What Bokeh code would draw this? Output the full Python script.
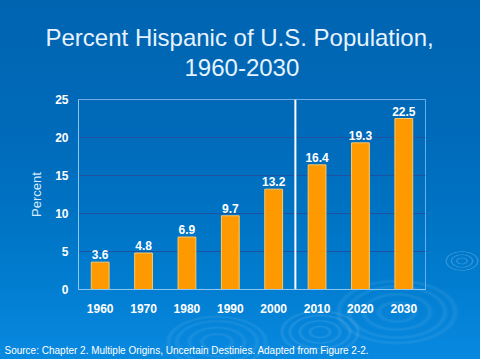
from bokeh.plotting import figure
from bokeh.models import (FactorRange, Range1d, ColumnDataSource, LabelSet, Span,
                          FixedTicker, Title)
from bokeh.core.properties import value
from bokeh.embed import file_html
from bokeh.resources import INLINE

# ---- data ----
years = ["1960", "1970", "1980", "1990", "2000", "2010", "2020", "2030"]
percent = [3.6, 4.8, 6.9, 9.7, 13.2, 16.4, 19.3, 22.5]
value_labels = ["3.6", "4.8", "6.9", "9.7", "13.2", "16.4", "19.3", "22.5"]
y_ticks = [0, 5, 10, 15, 20, 25]
last_observed = "2000"

title_line1 = "Percent Hispanic of U.S. Population,"
title_line2 = "1960-2030"
y_label = "Percent"
source_text = "Source: Chapter 2. Multiple Origins, Uncertain Destinies. Adapted from Figure 2-2."

FONT = "Liberation Sans"
W, H = 480, 359
ML, MR, MT, MB = 78, 55, 99, 70

p = figure(width=W, height=H, x_range=FactorRange(*years), y_range=Range1d(0, 25),
           output_backend="svg", toolbar_location=None,
           min_border_left=ML, min_border_right=MR, min_border_top=MT, min_border_bottom=MB)

# slide-like background (gradient + faint water ripples) via CSS on the plot element
def ripple(cx, cy, rx, ry, rings, a):
    stops = []
    for f in rings:
        stops.append(f"rgba(255,255,255,0) {max(f - 0.07, 0) * 100:.1f}%")
        stops.append(f"rgba(255,255,255,{a}) {f * 100:.1f}%")
        stops.append(f"rgba(255,255,255,0) {(f + 0.07) * 100:.1f}%")
    return f"radial-gradient(ellipse {rx}px {ry}px at {cx}px {cy}px, " + ", ".join(stops) + ")"

layers = [
    ripple(462, 261, 17, 10, [0.3, 0.62, 0.93], 0.22),
    ripple(320, 332, 40, 22, [0.25, 0.5, 0.75, 0.95], 0.10),
    ripple(397, 312, 60, 32, [0.3, 0.55, 0.8, 0.97], 0.08),
    ripple(217, 342, 50, 26, [0.3, 0.55, 0.8, 0.97], 0.08),
    "linear-gradient(to bottom, #0064b1 0%, #006ab9 35%, #0071c1 55%, #007bcd 75%, #0889e0 100%)",
]
p.styles = {"background": ", ".join(layers)}
p.border_fill_alpha = 0
p.background_fill_alpha = 0
p.outline_line_color = "#6aaee8"
p.outline_line_width = 1

src = ColumnDataSource(dict(x=years, top=percent, lab=value_labels))
p.vbar(x="x", top="top", width=0.41, source=src, fill_color="#ff9900",
       line_color="#ffc766", line_width=1)

p.add_layout(LabelSet(x="x", y="top", text="lab", source=src, text_align="center",
                      text_baseline="alphabetic", y_offset=3, text_color="white",
                      text_font_size="12px", text_font_style="bold", text_font=value(FONT)))

# divider between observed and projected values
p.add_layout(Span(location=years.index(last_observed) + 1, dimension="height",
                  line_color="white", line_width=2))

p.xgrid.grid_line_color = None
p.ygrid.grid_line_color = "#1d52a3"
p.ygrid.grid_line_width = 1
p.ygrid.ticker = FixedTicker(ticks=y_ticks)

p.yaxis.ticker = FixedTicker(ticks=y_ticks)
for ax in (p.xaxis[0], p.yaxis[0]):
    ax.major_tick_line_color = None
    ax.minor_tick_line_color = None
    ax.axis_line_color = "#8cc6f2"
    ax.major_label_text_color = "white"
    ax.major_label_text_font = FONT
    ax.major_label_text_font_style = "bold"
    ax.major_label_text_font_size = "12px"
p.yaxis.major_label_standoff = 4
p.xaxis.major_label_standoff = 8

p.yaxis.axis_label = y_label
p.yaxis.axis_label_text_font = FONT
p.yaxis.axis_label_text_font_style = "normal"
p.yaxis.axis_label_text_font_size = "13px"
p.yaxis.axis_label_text_color = "#d6ebff"
p.yaxis.axis_label_standoff = 8

# titles (added nearest-first)
p.add_layout(Title(text=title_line2, align="left", offset=106, standoff=47,
                   text_font=FONT, text_font_size="24px", text_font_style="normal",
                   text_color="#e6f3ff"), "above")
p.add_layout(Title(text=title_line1, align="left", offset=-33, standoff=-34,
                   text_font=FONT, text_font_size="24px", text_font_style="normal",
                   text_color="#e6f3ff"), "above")

# spacer + source line
p.add_layout(Title(text=" ", align="left", standoff=14, text_font=FONT,
                   text_font_size="10px"), "below")
p.add_layout(Title(text=source_text, align="left", offset=-74, standoff=0,
                   text_font=FONT, text_font_size="10px", text_font_style="normal",
                   text_color="white"), "below")

open("out.html", "w").write(file_html(p, INLINE))
